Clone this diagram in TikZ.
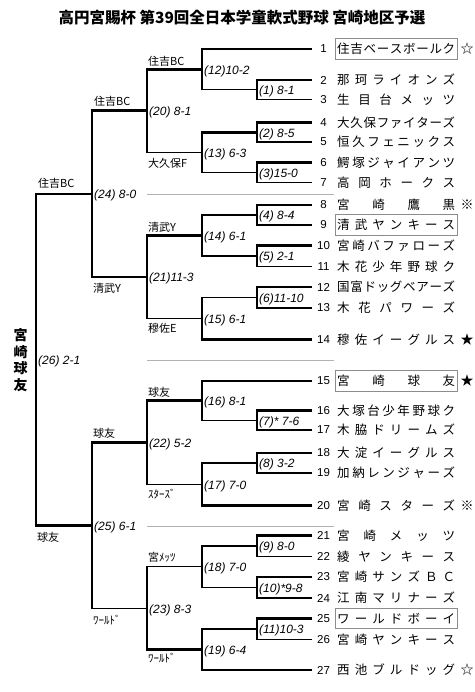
\documentclass[tikz,border=0pt]{standalone}
\usepackage{fontspec}
\setmainfont{Noto Sans CJK JP}
\newfontfamily\latinfont{Liberation Sans}
\newcommand\sprend{}
\newcommand\spr[1]{\hbox to 118pt{\sprA#1\sprend}}
\def\sprA#1{\ifx#1\sprend\else#1\expandafter\sprB\fi}
\def\sprB#1{\ifx#1\sprend\else\hfill#1\expandafter\sprB\fi}
\begin{document}
\begin{tikzpicture}[x=1pt,y=-1pt,
  win/.style={line width=2.8pt,line cap=square},
  lose/.style={line width=1.1pt},
  sepline/.style={line width=0.8pt,draw=black!30},
  teamname/.style={anchor=west,inner xsep=2pt,inner ysep=0pt,minimum height=20pt,font=\fontsize{12.5}{14}\selectfont},
  boxed/.style={draw=black!45,line width=0.7pt},
  num/.style={inner sep=0pt,font=\latinfont\fontsize{11.5}{13}\selectfont},
  score/.style={anchor=west,inner sep=0pt,font=\latinfont\itshape\fontsize{12}{14}\selectfont},
  wlab/.style={anchor=west,inner sep=0pt,font=\fontsize{11}{13}\selectfont},
  mk/.style={inner sep=0pt,font=\fontsize{13}{15}\selectfont}]
\useasboundingbox (0,0) rectangle (474,692);
% team end points
\foreach \i/\yy in {1/49,2/80,3/99.5,4/122.5,5/142,6/162.5,7/182.5,8/205,9/225,10/245.5,11/266.5,12/287,13/308,14/339.5,15/381,16/410.5,17/430,18/453,19/473,20/505.5,21/535.5,22/556.5,23/577,24/598,25/618.5,26/639.5,27/670}
  {\coordinate (t\i) at (312,\yy);}
% match points
\coordinate (m1) at (257,89.75);
\coordinate (m2) at (257,132.25);
\coordinate (m3) at (257,172.5);
\coordinate (m4) at (257,215);
\coordinate (m5) at (257,256);
\coordinate (m6) at (257,297.5);
\coordinate (m7) at (257,420.25);
\coordinate (m8) at (257,463);
\coordinate (m9) at (257,546);
\coordinate (m10) at (257,587.5);
\coordinate (m11) at (257,629);
\coordinate (m12) at (202,69.4);
\coordinate (m13) at (202,152.4);
\coordinate (m14) at (202,235.5);
\coordinate (m15) at (202,318.5);
\coordinate (m16) at (202,400.6);
\coordinate (m17) at (202,484.25);
\coordinate (m18) at (202,566.75);
\coordinate (m19) at (202,649.5);
\coordinate (m20) at (147,110.9);
\coordinate (m21) at (147,277);
\coordinate (m22) at (147,442.4);
\coordinate (m23) at (147,608.1);
\coordinate (m24) at (92,194);
\coordinate (m25) at (92,525.3);
\coordinate (m26) at (36,359.6);
% separators
\coordinate (sa1) at (147,194); \coordinate (sb1) at (334,194);
\coordinate (sa2) at (147,360); \coordinate (sb2) at (334,360);
\coordinate (sa3) at (147,526); \coordinate (sb3) at (334,526);
\draw[sepline] (sa1) -- (sb1);
\draw[sepline] (sa2) -- (sb2);
\draw[sepline] (sa3) -- (sb3);
% losing sides
\foreach \a/\b in {t3/m1,t5/m2,t7/m3,t8/m4,t11/m5,t12/m6,t17/m7,t18/m8,t22/m9,t23/m10,t26/m11,
  m1/m12,m3/m13,m5/m14,m6/m15,m7/m16,m8/m17,m10/m18,t27/m19,
  m13/m20,m15/m21,m17/m22,m18/m23,m21/m24,m23/m25,m24/m26}
  {\draw[lose] (\a) -| (\b);}
% winning sides
\foreach \a/\b in {t2/m1,t4/m2,t6/m3,t9/m4,t10/m5,t13/m6,t16/m7,t19/m8,t21/m9,t24/m10,t25/m11,
  t1/m12,m2/m13,m4/m14,t14/m15,t15/m16,t20/m17,m9/m18,m11/m19,
  m12/m20,m14/m21,m16/m22,m19/m23,m20/m24,m22/m25,m25/m26}
  {\draw[win] (\a) -| (\b);}
% title
\node[font=\bfseries\fontsize{15.5}{18}\selectfont] (title) at (242,18) {高円宮賜杯 第39回全日本学童軟式野球 宮崎地区予選};
% champion
\node[font=\bfseries\fontsize{14}{16.5}\selectfont,align=center,inner sep=0pt] (champ) at (20.5,360) {宮\\崎\\球\\友};
% numbers and names
\foreach \i/\nm in {1/住吉ベースボールク,2/那珂ライオンズ,3/生目台メッツ,4/大久保ファイターズ,5/恒久フェニックス,6/鰐塚ジャイアンツ,7/高岡ホークス,8/宮崎鷹黒,9/清武ヤンキース,10/宮崎バファローズ,11/木花少年野球ク,12/国富ドッグベアーズ,13/木花パワーズ,14/穆佐イーグルス,15/宮崎球友,16/大塚台少年野球ク,17/木脇ドリームズ,18/大淀イーグルス,19/加納レンジャーズ,20/宮崎スターズ,21/宮崎メッツ,22/綾ヤンキース,23/宮崎サンズＢＣ,24/江南マリナーズ,25/ワールドボーイ,26/宮崎ヤンキース,27/西池ブルドッグ}
  {\node[num] (no\i) at ([xshift=11.5pt]t\i) {\i};
   \node[teamname] (n\i) at ([xshift=23pt]t\i) {\expandafter\spr\expandafter{\nm}};}
\foreach \i in {1,9,15,25}
  {\draw[boxed] (n\i.south west) rectangle (n\i.north east);}
% marks
\node[mk] (k1) at ([xshift=155pt]t1) {☆};
\node[mk] (k8) at ([xshift=155pt]t8) {※};
\node[mk] (k14) at ([xshift=155pt]t14) {★};
\node[mk] (k15) at ([xshift=155pt]t15) {★};
\node[mk] (k20) at ([xshift=155pt]t20) {※};
\node[mk] (k27) at ([xshift=155pt]t27) {☆};
% scores
\foreach \m/\s in {1/{(1) 8-1},2/{(2) 8-5},3/{(3)15-0},4/{(4) 8-4},5/{(5) 2-1},6/{(6)11-10},7/{(7)* 7-6},8/{(8) 3-2},9/{(9) 8-0},10/{(10)*9-8},11/{(11)10-3},
  12/{(12)10-2},13/{(13) 6-3},14/{(14) 6-1},15/{(15) 6-1},16/{(16) 8-1},17/{(17) 7-0},18/{(18) 7-0},19/{(19) 6-4},
  20/{(20) 8-1},21/{(21)11-3},22/{(22) 5-2},23/{(23) 8-3},24/{(24) 8-0},25/{(25) 6-1},26/{(26) 2-1}}
  {\node[score] (s\m) at ([shift={(2,1.8)}]m\m) {\s};}
% winner labels
\node[wlab] (w12) at (148,61) {住吉BC};
\node[wlab] (w20) at (94,101) {住吉BC};
\node[wlab] (w13) at (148,163) {大久保F};
\node[wlab] (w24) at (38,183) {住吉BC};
\node[wlab] (w14) at (148,227) {清武Y};
\node[wlab] (w21) at (93,288) {清武Y};
\node[wlab] (w15) at (148,328) {穆佐E};
\node[wlab] (w16) at (148,392) {球友};
\node[wlab] (w22) at (93,433) {球友};
\node[wlab] (w17) at (148,494) {ｽﾀｰｽﾞ};
\node[wlab] (w25) at (37,537) {球友};
\node[wlab] (w18) at (148,557) {宮ﾒｯﾂ};
\node[wlab] (w23) at (93,620) {ﾜｰﾙﾄﾞ};
\node[wlab] (w19) at (148,658) {ﾜｰﾙﾄﾞ};
\end{tikzpicture}
\end{document}
